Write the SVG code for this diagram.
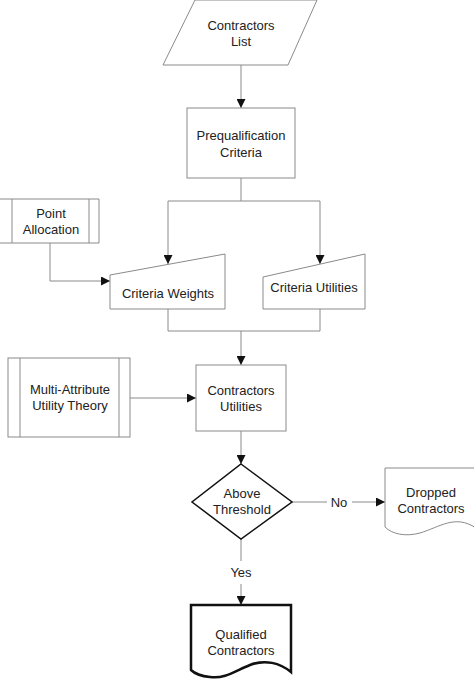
<svg xmlns="http://www.w3.org/2000/svg" width="474" height="683" viewBox="0 0 474 683">
<style>
.s{fill:#fff;stroke:#8a8a8a;stroke-width:1}
.t{font-family:"Liberation Sans",Arial,sans-serif;font-size:13px;fill:#222;text-anchor:middle}
.c{fill:none;stroke:#8a8a8a;stroke-width:1}
</style>
<defs>
<marker id="a" viewBox="0 0 10 10" refX="10" refY="5" markerWidth="9" markerHeight="9" markerUnits="userSpaceOnUse" orient="auto">
<path d="M0,0 L10,5 L0,10 Z" fill="#111"/>
</marker>
</defs>
<rect width="474" height="683" fill="#fff"/>
<g id="connectors">
<path class="c" d="M241,65 V108" marker-end="url(#a)"/>
<path class="c" d="M241,178 V201 M168,201 H320"/>
<path class="c" d="M168,201 V264" marker-end="url(#a)"/>
<path class="c" d="M320,201 V264" marker-end="url(#a)"/>
<path class="c" d="M50,243 V281 H110" marker-end="url(#a)"/>
<path class="c" d="M168,309 V331 H320 V309"/>
<path class="c" d="M241,331 V365" marker-end="url(#a)"/>
<path class="c" d="M130,398 H196" marker-end="url(#a)"/>
<path class="c" d="M241,431 V464" marker-end="url(#a)"/>
<path class="c" d="M292,502 H327 M352,502 H385" marker-end="url(#a)"/>
<path class="c" d="M241,539 V561 M241,584 V605" marker-end="url(#a)"/>
<text class="t" x="339" y="507">No</text>
<text class="t" x="241" y="577">Yes</text>
</g>
<g id="contractors-list">
<polygon class="s" points="195,0 317,0 288,65 163,65"/>
<text class="t" x="241" y="30">Contractors</text>
<text class="t" x="241" y="46">List</text>
</g>
<g id="prequalification">
<rect class="s" x="187" y="108" width="108" height="70"/>
<text class="t" x="241" y="140">Prequalification</text>
<text class="t" x="241" y="157">Criteria</text>
</g>
<g id="point-allocation">
<path class="s" d="M-1,199 H99 V243 H-1 Z"/>
<path class="c" d="M12,199 V243 M89,199 V243"/>
<text class="t" x="51" y="218">Point</text>
<text class="t" x="51" y="234">Allocation</text>
</g>
<g id="criteria-weights">
<polygon class="s" points="110,275 225,254 225,309 110,309"/>
<text class="t" x="168" y="298">Criteria Weights</text>
</g>
<g id="criteria-utilities">
<polygon class="s" points="263,277 365,254 365,309 263,309"/>
<text class="t" x="314" y="292">Criteria Utilities</text>
</g>
<g id="maut">
<rect class="s" x="8" y="358" width="122" height="79"/>
<path class="c" d="M20,358 V437 M119,358 V437"/>
<text class="t" x="70" y="394">Multi-Attribute</text>
<text class="t" x="70" y="410">Utility Theory</text>
</g>
<g id="contractors-utilities">
<rect class="s" x="196" y="365" width="90" height="66"/>
<text class="t" x="241" y="395">Contractors</text>
<text class="t" x="241" y="411">Utilities</text>
</g>
<g id="above-threshold">
<polygon points="241,464 292,502 241,539 192,502" fill="#fff" stroke="#111" stroke-width="1.5"/>
<text class="t" x="242" y="498">Above</text>
<text class="t" x="242" y="514">Threshold</text>
</g>
<g id="dropped">
<path class="s" d="M476,468 H385 V527 C392,534 405,537 420,533 C440,527 455,514 476,528"/>
<text class="t" x="431" y="497">Dropped</text>
<text class="t" x="431" y="513">Contractors</text>
</g>
<g id="qualified">
<path d="M191,605 H291 V672 C280,663 265,659 250,665 C235,671 225,679 210,677 C200,676 194,673 191,670 Z" fill="#fff" stroke="#111" stroke-width="2.5"/>
<text class="t" x="241" y="639">Qualified</text>
<text class="t" x="241" y="655">Contractors</text>
</g>
</svg>
